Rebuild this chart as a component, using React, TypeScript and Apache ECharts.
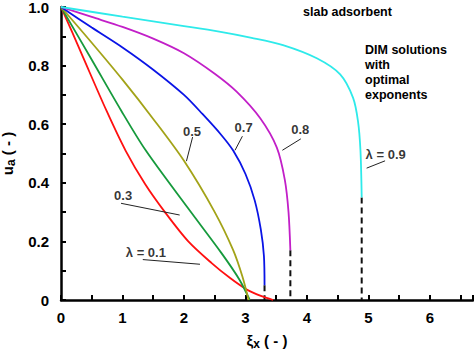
import React, { useEffect, useRef } from "react";
import * as echarts from "echarts";

const FONT = "'Liberation Sans', Arial, Helvetica, sans-serif";

// Curve data: [xi_x, u_a]
const curve01: number[][] = [[0, 1], [0.18, 0.915], [0.36, 0.828], [0.74, 0.646], [1.05, 0.51], [1.37, 0.395], [1.69, 0.3], [2.07, 0.2], [2.45, 0.126], [2.75, 0.075], [3.02, 0.036], [3.25, 0.014], [3.45, 0]];
const curve03: number[][] = [[0, 1], [0.5, 0.82], [0.98, 0.646], [1.38, 0.51], [2.07, 0.312], [2.61, 0.16], [2.9, 0.07], [3.07, 0]];
const curve05: number[][] = [[0, 1], [0.5, 0.878], [1.0, 0.752], [1.5, 0.618], [2.0, 0.475], [2.5, 0.3], [2.8, 0.17], [2.95, 0.08], [3.05, 0]];
const curve07: number[][] = [[0, 1], [0.5, 0.93], [1.0, 0.862], [1.5, 0.786], [2.0, 0.7], [2.3, 0.635], [2.6, 0.565], [2.8, 0.51], [3.0, 0.43], [3.15, 0.34], [3.25, 0.24], [3.3, 0.15], [3.31, 0.05]];
const curve08: number[][] = [[0, 1], [0.5, 0.966], [1.0, 0.932], [1.5, 0.892], [2.0, 0.842], [2.5, 0.772], [2.86, 0.71], [3.24, 0.62], [3.51, 0.52], [3.64, 0.41], [3.7, 0.3], [3.73, 0.17]];
const curve09: number[][] = [[0, 1], [1.0, 0.967], [2.0, 0.935], [2.55, 0.917], [3.1, 0.895], [3.61, 0.87], [4.16, 0.825], [4.54, 0.77], [4.75, 0.69], [4.83, 0.61], [4.87, 0.51], [4.89, 0.35]];

const curveColors = ["#ff1010", "#169a3c", "#a3a318", "#0a14e6", "#c21fc8", "#2eeaea"];
const curves = [curve01, curve03, curve05, curve07, curve08, curve09];

// Dashed drops at curve ends
const dashed07: number[][] = [[3.31, 0.05], [3.31, 0]];
const dashed08: number[][] = [[3.73, 0.17], [3.73, 0]];
const dashed09: number[][] = [[4.89, 0.35], [4.89, 0]];

// Annotation labels (text, x, y) and leader lines
const annoText = ["λ = 0.1", "0.3", "0.5", "0.7", "0.8", "λ = 0.9"];
const annoPos: number[][] = [[1.38, 0.163], [1.01, 0.356], [2.13, 0.576], [2.97, 0.59], [3.89, 0.583], [5.28, 0.498]];
const leaders: number[][][] = [
  [[1.33, 0.138], [2.26, 0.122]],
  [[0.976, 0.33], [1.93, 0.29]],
  [[2.14, 0.556], [2.04, 0.474]],
  [[2.95, 0.559], [2.83, 0.511]],
  [[3.9, 0.55], [3.6, 0.511]],
  [[4.97, 0.45], [5.27, 0.475]],
];

const xMax = 6.7;

export default function App() {
  const ref = useRef<HTMLDivElement>(null);
  useEffect(() => {
    if (!ref.current) return;
    const chart = echarts.init(ref.current, undefined, { renderer: "svg" });
    const series: any[] = [];
    curves.forEach((c, i) => {
      series.push({
        type: "line",
        data: c,
        smooth: 0.3,
        showSymbol: false,
        lineStyle: { color: curveColors[i], width: 1.8 },
        z: 3,
      });
    });
    [dashed07, dashed08, dashed09].forEach((d) => {
      series.push({
        type: "line",
        data: d,
        showSymbol: false,
        lineStyle: { color: "#111", width: 2, type: [6, 4] },
        z: 2,
      });
    });
    leaders.forEach((l) => {
      series.push({
        type: "line",
        data: l,
        showSymbol: false,
        lineStyle: { color: "#222", width: 1 },
        z: 4,
      });
    });
    series.push({
      type: "scatter",
      symbolSize: 0,
      data: annoPos.map((p, i) => ({ value: p, name: annoText[i] })),
      label: {
        show: true,
        position: "inside",
        formatter: (p: any) => p.name,
        color: "#000",
        fontWeight: "bold",
        fontSize: 13,
        fontFamily: FONT,
      },
      z: 5,
    });

    chart.setOption({
      animation: false,
      grid: { left: 61, right: 1, top: 7, bottom: 51, containLabel: false, outerBoundsMode: "none" },
      xAxis: {
        type: "value",
        min: 0,
        max: xMax,
        interval: 1,
        axisLine: { lineStyle: { color: "#000", width: 2.5 } },
        axisTick: { inside: true, length: 5, lineStyle: { color: "#000", width: 2 } },
        minorTick: { show: true, splitNumber: 2, length: 5, lineStyle: { color: "#000", width: 2 } },
        splitLine: { show: false },
        axisLabel: {
          color: "#000",
          fontWeight: "bold",
          fontSize: 15,
          fontFamily: FONT,
          margin: 10,
          formatter: (v: number) => (Math.abs(v - Math.round(v)) < 1e-6 ? String(Math.round(v)) : ""),
        },
        name: "{b|ξ}{s|x}{b| ( - )}",
        nameLocation: "middle",
        nameGap: 31,
        nameTextStyle: {
          rich: {
            b: { fontSize: 15, fontWeight: "bold", fontFamily: FONT, color: "#000", lineHeight: 18 },
            s: { fontSize: 12, fontWeight: "bold", fontFamily: FONT, color: "#000", padding: [8, 0, 0, 0], lineHeight: 18 },
          },
        },
      },
      yAxis: {
        type: "value",
        min: 0,
        max: 1,
        interval: 0.2,
        axisLine: { show: true, lineStyle: { color: "#000", width: 2.5 } },
        axisTick: { show: true, inside: true, length: 5, lineStyle: { color: "#000", width: 2 } },
        minorTick: { show: true, splitNumber: 2, length: 5, lineStyle: { color: "#000", width: 2 } },
        splitLine: { show: false },
        axisLabel: {
          color: "#000",
          fontWeight: "bold",
          fontSize: 15,
          lineHeight: 13,
          fontFamily: FONT,
          margin: 12,
          formatter: (v: number) => (v === 0 ? "0" : v.toFixed(1)),
        },
        name: "{b|u}{s|a}{b| ( - )}",
        nameLocation: "middle",
        nameGap: 42,
        nameTextStyle: {
          rich: {
            b: { fontSize: 15, fontWeight: "bold", fontFamily: FONT, color: "#000", lineHeight: 18 },
            s: { fontSize: 12, fontWeight: "bold", fontFamily: FONT, color: "#000", padding: [8, 0, 0, 0], lineHeight: 18 },
          },
        },
      },
      graphic: [
        {
          type: "text",
          left: 303,
          top: 5,
          style: { text: "slab adsorbent", fontSize: 12.5, fontWeight: "bold", fontFamily: FONT, fill: "#000" },
        },
        {
          type: "text",
          left: 365,
          top: 42,
          style: {
            text: "DIM solutions\nwith\noptimal\nexponents",
            fontSize: 12.5,
            lineHeight: 15,
            fontWeight: "bold",
            fontFamily: FONT,
            fill: "#000",
          },
        },
      ],
      series,
    });
    return () => chart.dispose();
  }, []);
  return <div ref={ref} style={{ position: "fixed", left: 0, top: 0, width: 474, height: 351, background: "#fff" }} />;
}
